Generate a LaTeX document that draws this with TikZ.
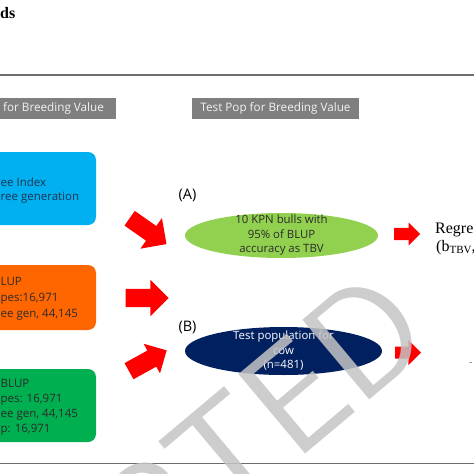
\documentclass[tikz,border=0pt]{standalone}
\usepackage{fontspec}
\setmainfont{Liberation Serif}
\newfontfamily\diafont{Open Sans}
\usepackage{tikz}
\usetikzlibrary{shapes.geometric,%
                shapes.arrows}
\definecolor{headgray}{HTML}{7F7F7F}
\definecolor{rulegray}{HTML}{6E6E6E}
\definecolor{skyfill}{HTML}{00B0F0}
\definecolor{orangefill}{HTML}{FF6600}
\definecolor{greenfill}{HTML}{00B050}
\definecolor{limefill}{HTML}{92D050}
\definecolor{navyfill}{HTML}{002060}
\definecolor{arrowred}{HTML}{FF0000}
\definecolor{darktext}{HTML}{2B2B2B}
\definecolor{skytext}{HTML}{1F3350}
\definecolor{wmgray}{HTML}{C4C4C4}

\begin{document}
\begin{tikzpicture}[x=1pt,y=-1pt]
  \tikzstyle{HeadStyle}=[fill=headgray,text=white!95!black,inner sep=0,minimum height=21,
                         font=\diafont\fontsize{11.7}{13}\selectfont]
  \tikzstyle{BoxStyle}=[rounded corners=8pt,inner sep=0,minimum width=136]
  \tikzstyle{BoxText}=[anchor=base west,inner sep=0,text=darktext,
                       font=\diafont\fontsize{11.5}{13}\selectfont]
  \tikzstyle{EllStyle}=[ellipse,inner sep=0]
  \tikzstyle{EllText}=[align=center,inner sep=0,font=\diafont\fontsize{11.4}{14.5}\selectfont]
  \tikzstyle{RedArrow}=[single arrow,fill=arrowred,inner xsep=0,single arrow tip angle=90]
  \useasboundingbox (0,0) rectangle (474,474);
  \clip (0,0) rectangle (474,474);
  % title and rules
  \node[anchor=base east,inner sep=0,font=\bfseries\fontsize{16}{18}\selectfont] (ttl) at (15.5,18) {ds};
  \coordinate (TL) at (0,75);    \coordinate (TR) at (474,75);
  \coordinate (BL) at (0,463);   \coordinate (BR) at (474,463);
  \draw[rulegray,line width=1.8] (TL) -- (TR);
  \draw[rulegray,line width=1] (BL) -- (BR);
  % headers
  \node[HeadStyle,minimum width=125] (H1) at (53.5,108.5) {for Breeding Value};
  \node[HeadStyle,minimum width=167] (H2) at (275.5,108.5) {Test Pop for Breeding Value};
  % left boxes
  \node[BoxStyle,fill=skyfill,minimum height=73] (P) at (28,188.5) {};
  \node[BoxStyle,fill=orangefill,minimum height=65] (Q) at (28,297.5) {};
  \node[BoxStyle,fill=greenfill,minimum height=73] (R) at (28,405.5) {};
  \node[BoxText,text=skytext] (P1) at (0.5,186) {ee Index};
  \node[BoxText,text=skytext] (P2) at (0.5,200) {ree generation};
  \node[BoxText] (Q1) at (0.5,285) {LUP};
  \node[BoxText] (Q2) at (0.5,301.5) {pes:16,971};
  \node[BoxText] (Q3) at (0.5,317) {ee gen, 44,145};
  \node[BoxText] (R1) at (0.5,387) {BLUP};
  \node[BoxText] (R2) at (0.5,402) {pes: 16,971};
  \node[BoxText] (R3) at (0.5,417) {ee gen, 44,145};
  \node[BoxText] (R4) at (0.5,432) {p: 16,971};
  % arrows into the test populations
  \node[RedArrow,minimum height=45,inner ysep=8.75,single arrow head extend=9.75,rotate=-35] (a1) at (144.4,228.6) {};
  \node[RedArrow,minimum height=43,inner ysep=9,single arrow head extend=9] (a2) at (142.5,298) {};
  \node[RedArrow,minimum height=43,inner ysep=9,single arrow head extend=7.75,rotate=29] (a3) at (143.8,363) {};
  % test populations
  \node[font=\diafont\fontsize{14.5}{16}\selectfont,inner sep=0] (lA) at (187.5,195.5) {(A)};
  \node[font=\diafont\fontsize{14.5}{16}\selectfont,inner sep=0] (lB) at (187.5,327.5) {(B)};
  \node[EllStyle,fill=limefill,minimum width=193,minimum height=45] (E1) at (281.5,235.5) {};
  \node[EllStyle,fill=navyfill,minimum width=197,minimum height=48] (E2) at (283.5,351) {};
  \node[EllText,text=darktext] (T1) at (E1.center) {10 KPN bulls with\\95\% of BLUP\\accuracy as TBV};
  \node[EllText,text=white] (T2) at (E2.center) {Test population for\\cow\\(n=481)};
  % arrows to the regression
  \node[RedArrow,minimum height=26,inner ysep=6,single arrow head extend=5.25] (a4) at (404,234) {};
  \node[RedArrow,minimum height=26,inner ysep=5.8,single arrow head extend=6.7] (a5) at (405,352.5) {};
  \node[anchor=base west,inner sep=0,font=\fontsize{16}{18}\selectfont] (reg1) at (435,233) {Regre};
  \node[anchor=base west,inner sep=0,font=\fontsize{16}{18}\selectfont] (reg2) at (436,251)
       {(b\raisebox{-0.35ex}{\fontsize{11}{11}\selectfont TBV},};
  \node[anchor=west,inner sep=0,text=rulegray,font=\fontsize{10}{10}\selectfont] (dsh) at (469,364.5) {-};
  % watermark
  \node[rotate=40,text=wmgray,opacity=.85,font=\sffamily\fontsize{150}{150}\selectfont] (wm) at (126,537) {ACCEPTED};
\end{tikzpicture}
\end{document}
